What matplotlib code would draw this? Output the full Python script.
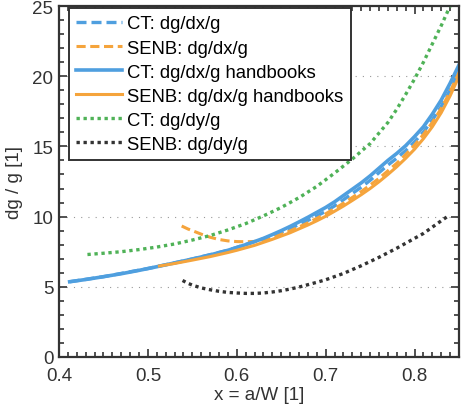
import numpy as np
import matplotlib
matplotlib.use('Agg')
import matplotlib.pyplot as plt
from matplotlib.ticker import MultipleLocator

plt.rcParams['font.family'] = ['Liberation Sans', 'DejaVu Sans']

# CT: dg/dx/g handbooks
ct_hb_x = [0.412, 0.43, 0.45, 0.47, 0.49, 0.51, 0.53, 0.55, 0.57, 0.59, 0.6, 0.61, 0.62, 0.63, 0.64,
           0.65, 0.66, 0.67, 0.68, 0.69, 0.7, 0.71, 0.72, 0.73, 0.74, 0.75, 0.76, 0.77, 0.78, 0.79,
           0.8, 0.81, 0.82, 0.83, 0.84, 0.85]
ct_hb_y = [5.36, 5.52, 5.72, 5.93, 6.17, 6.43, 6.7, 6.98, 7.27, 7.6, 7.8, 8.0, 8.22, 8.45, 8.72,
           9.0, 9.3, 9.62, 9.95, 10.3, 10.65, 11.05, 11.5, 11.95, 12.4, 12.9, 13.45, 14.0, 14.5, 15.05,
           15.7, 16.4, 17.3, 18.3, 19.5, 20.8]
# CT: dg/dx/g
ct_x = [0.412, 0.45, 0.5, 0.55, 0.59, 0.62, 0.63, 0.64, 0.65, 0.66, 0.67, 0.68, 0.69, 0.7, 0.71,
        0.72, 0.73, 0.74, 0.75, 0.76, 0.77, 0.78, 0.79, 0.8, 0.81, 0.82, 0.83, 0.84, 0.85]
ct_y = [5.36, 5.72, 6.3, 6.98, 7.6, 8.22, 8.42, 8.66, 8.88, 9.14, 9.44, 9.73, 10.05, 10.37, 10.76,
        11.2, 11.65, 12.09, 12.58, 13.13, 13.67, 14.16, 14.7, 15.33, 16.02, 16.88, 17.85, 19.0, 20.3]
# SENB: dg/dx/g handbooks
senb_hb_x = [0.513, 0.53, 0.55, 0.57, 0.59, 0.6, 0.62, 0.64, 0.66, 0.68, 0.69, 0.7, 0.71, 0.72, 0.73,
             0.74, 0.75, 0.76, 0.77, 0.78, 0.79, 0.8, 0.81, 0.82, 0.83, 0.84, 0.85]
senb_hb_y = [6.48, 6.66, 6.9, 7.15, 7.44, 7.6, 7.95, 8.38, 8.85, 9.4, 9.7, 10.02, 10.38, 10.75, 11.15,
             11.56, 12.0, 12.48, 13.0, 13.55, 14.15, 14.8, 15.55, 16.4, 17.4, 18.6, 20.0]
# SENB: dg/dx/g
senb_x = [0.538, 0.545, 0.55, 0.56, 0.57, 0.58, 0.59, 0.6, 0.61, 0.62, 0.63, 0.64, 0.66, 0.68, 0.7,
          0.72, 0.74, 0.76, 0.78, 0.79, 0.8, 0.81, 0.82, 0.83, 0.84, 0.85]
senb_y = [9.33, 9.12, 9.0, 8.75, 8.53, 8.37, 8.27, 8.22, 8.21, 8.23, 8.3, 8.5, 8.98, 9.55, 10.2,
          10.95, 11.78, 12.72, 13.8, 14.42, 15.1, 15.85, 16.7, 17.7, 18.9, 20.3]
# CT: dg/dy/g
ct_dy_x = [0.432, 0.45, 0.47, 0.49, 0.51, 0.53, 0.55, 0.57, 0.59, 0.61, 0.63, 0.65, 0.67, 0.69,
           0.71, 0.73, 0.75, 0.77, 0.78, 0.79, 0.8, 0.81, 0.82, 0.83, 0.84, 0.845]
ct_dy_y = [7.3, 7.39, 7.5, 7.65, 7.83, 8.05, 8.33, 8.65, 9.05, 9.5, 10.05, 10.65, 11.35, 12.15,
           13.1, 14.1, 15.2, 16.7, 17.65, 18.7, 19.8, 21.0, 22.3, 23.6, 25.0, 25.7]
# SENB: dg/dy/g
senb_dy_x = [0.539, 0.545, 0.55, 0.56, 0.57, 0.58, 0.59, 0.6, 0.61, 0.62, 0.63, 0.64, 0.65, 0.66,
             0.67, 0.68, 0.69, 0.7, 0.72, 0.74, 0.76, 0.78, 0.8, 0.81, 0.82, 0.83, 0.838]
senb_dy_y = [5.45, 5.25, 5.12, 4.92, 4.79, 4.68, 4.6, 4.56, 4.53, 4.53, 4.56, 4.63, 4.72, 4.84,
             4.98, 5.15, 5.32, 5.5, 5.95, 6.5, 7.1, 7.75, 8.45, 8.8, 9.25, 9.7, 10.05]

blue = '#4f9fdf'
orange = '#f5a43c'
green = '#4fb257'
dark = '#333333'

fig = plt.figure(figsize=(4.74, 4.06), dpi=100)
ax = fig.add_axes([59 / 474, 48 / 406, 400 / 474, 351 / 406])

ax.plot(ct_x, ct_y, color=blue, lw=2.4, ls=(0, (3, 1.5)), label='CT: dg/dx/g')
ax.plot(senb_x, senb_y, color=orange, lw=2.2, ls=(0, (3, 1.5)), label='SENB: dg/dx/g')
ax.plot(ct_hb_x, ct_hb_y, color=blue, lw=2.6, label='CT: dg/dx/g handbooks')
ax.plot(senb_hb_x, senb_hb_y, color=orange, lw=2.2, label='SENB: dg/dx/g handbooks')
ax.plot(ct_dy_x, ct_dy_y, color=green, lw=2.4, ls=(0, (1, 1.1)), label='CT: dg/dy/g')
ax.plot(senb_dy_x, senb_dy_y, color=dark, lw=2.4, ls=(0, (1, 1.1)), label='SENB: dg/dy/g')

ax.set_xlim(0.4, 0.85)
ax.set_ylim(0, 25)
ax.xaxis.set_major_locator(MultipleLocator(0.1))
ax.xaxis.set_minor_locator(MultipleLocator(0.01))
ax.yaxis.set_major_locator(MultipleLocator(5))
ax.yaxis.set_minor_locator(MultipleLocator(1))
ax.tick_params(which='both', direction='in', top=True, right=True, colors=dark,
               labelsize=13.5, width=1.2)
ax.tick_params(which='major', length=6)
ax.tick_params(which='minor', length=3.5)
ax.tick_params(axis='x', pad=7)
ax.tick_params(axis='y', pad=4)
for s in ax.spines.values():
    s.set_color(dark)
    s.set_linewidth(1.6)

# horizontal dotted grid only
for yv in [5, 10, 15, 20]:
    ax.axhline(yv, color='#999999', lw=0.8, ls=(0, (1, 5.5)), zorder=0)

ax.set_xlabel('x = a/W [1]', fontsize=13.5, color=dark, labelpad=2)
ax.set_ylabel('dg / g [1]', fontsize=13.5, color=dark, labelpad=7)

leg = ax.legend(loc='upper left', bbox_to_anchor=(0.025, 0.994), borderaxespad=0,
                fontsize=13.3, fancybox=False, framealpha=1, edgecolor=dark,
                labelspacing=0.38, handlelength=2.45, handletextpad=0.3, borderpad=0.4)
leg.get_frame().set_linewidth(1.4)

fig.savefig('out.png', dpi=100)
